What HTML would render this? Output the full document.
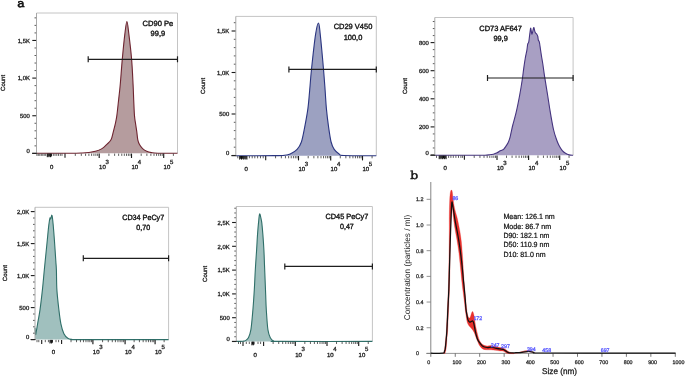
<!DOCTYPE html>
<html><head><meta charset="utf-8"><title>Figure</title>
<style>
html,body{margin:0;padding:0;background:#fff;}
body{width:685px;height:377px;overflow:hidden;}
svg{display:block;font-family:'Liberation Sans', Arial, Helvetica, sans-serif;text-rendering:geometricPrecision;filter:blur(0.3px);}
</style></head>
<body>
<svg width="685" height="377" viewBox="0 0 685 377">
<rect width="685" height="377" fill="#fff"/>
<line x1="36.5" y1="13" x2="177.5" y2="13" stroke="#c4c4c4" stroke-width="1"/>
<line x1="177.5" y1="13" x2="177.5" y2="153.3" stroke="#c4c4c4" stroke-width="1"/>
<path d="M36.5,153.3 C42.08,153.29 62.42,153.3 70,153.25 C77.58,153.2 78.9,153.12 82,153 C85.1,152.88 86.37,152.78 88.6,152.5 C90.83,152.22 93.17,151.95 95.4,151.3 C97.63,150.65 100.13,149.72 102,148.6 C103.87,147.48 105.1,146.07 106.6,144.6 C108.1,143.13 109.88,141.93 111,139.8 C112.12,137.67 112.58,134.45 113.3,131.8 C114.02,129.15 114.72,126.55 115.3,123.9 C115.88,121.25 116.25,119.88 116.8,115.9 C117.35,111.92 118.03,105.15 118.6,100 C119.17,94.85 119.58,91.82 120.2,85 C120.82,78.18 121.52,67.67 122.3,59.1 C123.08,50.53 124.13,39.87 124.9,33.6 C125.67,27.33 126.25,21.5 126.9,21.5 C127.55,21.5 128.02,27.33 128.8,33.6 C129.58,39.87 130.88,50.53 131.6,59.1 C132.32,67.67 132.75,78.18 133.1,85 C133.45,91.82 133.47,94.85 133.7,100 C133.93,105.15 134.18,111.92 134.5,115.9 C134.82,119.88 135.22,121.25 135.6,123.9 C135.98,126.55 136.43,129.15 136.8,131.8 C137.17,134.45 137.35,137.67 137.8,139.8 C138.25,141.93 138.7,143.13 139.5,144.6 C140.3,146.07 141.4,147.48 142.6,148.6 C143.8,149.72 145.22,150.63 146.7,151.3 C148.18,151.97 149.62,152.28 151.5,152.6 C153.38,152.92 153.67,153.08 158,153.2 C162.33,153.32 174.25,153.28 177.5,153.3 L177.5,153.3 L36.5,153.3 Z" fill="#b59c9e" stroke="none"/>
<path d="M36.5,153.3 C42.08,153.29 62.42,153.3 70,153.25 C77.58,153.2 78.9,153.12 82,153 C85.1,152.88 86.37,152.78 88.6,152.5 C90.83,152.22 93.17,151.95 95.4,151.3 C97.63,150.65 100.13,149.72 102,148.6 C103.87,147.48 105.1,146.07 106.6,144.6 C108.1,143.13 109.88,141.93 111,139.8 C112.12,137.67 112.58,134.45 113.3,131.8 C114.02,129.15 114.72,126.55 115.3,123.9 C115.88,121.25 116.25,119.88 116.8,115.9 C117.35,111.92 118.03,105.15 118.6,100 C119.17,94.85 119.58,91.82 120.2,85 C120.82,78.18 121.52,67.67 122.3,59.1 C123.08,50.53 124.13,39.87 124.9,33.6 C125.67,27.33 126.25,21.5 126.9,21.5 C127.55,21.5 128.02,27.33 128.8,33.6 C129.58,39.87 130.88,50.53 131.6,59.1 C132.32,67.67 132.75,78.18 133.1,85 C133.45,91.82 133.47,94.85 133.7,100 C133.93,105.15 134.18,111.92 134.5,115.9 C134.82,119.88 135.22,121.25 135.6,123.9 C135.98,126.55 136.43,129.15 136.8,131.8 C137.17,134.45 137.35,137.67 137.8,139.8 C138.25,141.93 138.7,143.13 139.5,144.6 C140.3,146.07 141.4,147.48 142.6,148.6 C143.8,149.72 145.22,150.63 146.7,151.3 C148.18,151.97 149.62,152.28 151.5,152.6 C153.38,152.92 153.67,153.08 158,153.2 C162.33,153.32 174.25,153.28 177.5,153.3" fill="none" stroke="#6e2430" stroke-width="1.1" stroke-linejoin="round"/>
<line x1="36.5" y1="13" x2="36.5" y2="153.8" stroke="#a8a8a8" stroke-width="1"/>
<line x1="32.3" y1="153.4" x2="36.1" y2="153.4" stroke="#1a1a1a" stroke-width="1.1"/>
<line x1="34.5" y1="145.87" x2="36.1" y2="145.87" stroke="#333" stroke-width="0.8"/>
<line x1="34.5" y1="138.34" x2="36.1" y2="138.34" stroke="#333" stroke-width="0.8"/>
<line x1="34.5" y1="130.81" x2="36.1" y2="130.81" stroke="#333" stroke-width="0.8"/>
<line x1="34.5" y1="123.28" x2="36.1" y2="123.28" stroke="#333" stroke-width="0.8"/>
<line x1="32.3" y1="115.75" x2="36.1" y2="115.75" stroke="#1a1a1a" stroke-width="1.1"/>
<line x1="34.5" y1="108.22" x2="36.1" y2="108.22" stroke="#333" stroke-width="0.8"/>
<line x1="34.5" y1="100.69" x2="36.1" y2="100.69" stroke="#333" stroke-width="0.8"/>
<line x1="34.5" y1="93.16" x2="36.1" y2="93.16" stroke="#333" stroke-width="0.8"/>
<line x1="34.5" y1="85.63" x2="36.1" y2="85.63" stroke="#333" stroke-width="0.8"/>
<line x1="32.3" y1="78.1" x2="36.1" y2="78.1" stroke="#1a1a1a" stroke-width="1.1"/>
<line x1="34.5" y1="70.57" x2="36.1" y2="70.57" stroke="#333" stroke-width="0.8"/>
<line x1="34.5" y1="63.04" x2="36.1" y2="63.04" stroke="#333" stroke-width="0.8"/>
<line x1="34.5" y1="55.51" x2="36.1" y2="55.51" stroke="#333" stroke-width="0.8"/>
<line x1="34.5" y1="47.98" x2="36.1" y2="47.98" stroke="#333" stroke-width="0.8"/>
<line x1="32.3" y1="40.45" x2="36.1" y2="40.45" stroke="#1a1a1a" stroke-width="1.1"/>
<line x1="34.5" y1="32.92" x2="36.1" y2="32.92" stroke="#333" stroke-width="0.8"/>
<line x1="34.5" y1="25.39" x2="36.1" y2="25.39" stroke="#333" stroke-width="0.8"/>
<line x1="34.5" y1="17.86" x2="36.1" y2="17.86" stroke="#333" stroke-width="0.8"/>
<text x="29.9" y="153" font-size="5.9" text-anchor="end" fill="#222" stroke="#222" stroke-width="0.3">0</text>
<text x="29.9" y="117.95" font-size="5.9" text-anchor="end" fill="#222" stroke="#222" stroke-width="0.3">500</text>
<text x="29.9" y="80.3" font-size="5.9" text-anchor="end" fill="#222" stroke="#222" stroke-width="0.3">1,0K</text>
<text x="29.9" y="42.65" font-size="5.9" text-anchor="end" fill="#222" stroke="#222" stroke-width="0.3">1,5K</text>
<text x="0" y="0" font-size="6" text-anchor="middle" fill="#222" transform="translate(5.3,82.9) rotate(-90)" stroke="#222" stroke-width="0.3">Count</text>
<line x1="32.1" y1="153.3" x2="37" y2="153.3" stroke="#222" stroke-width="1"/>
<line x1="47.3" y1="153.6" x2="47.3" y2="157.2" stroke="#000" stroke-width="0.95"/>
<line x1="48.12" y1="153.6" x2="48.12" y2="156.4" stroke="#000" stroke-width="0.95"/>
<line x1="48.94" y1="153.6" x2="48.94" y2="157.2" stroke="#000" stroke-width="0.95"/>
<line x1="49.76" y1="153.6" x2="49.76" y2="156.4" stroke="#000" stroke-width="0.95"/>
<line x1="50.58" y1="153.6" x2="50.58" y2="157.2" stroke="#000" stroke-width="0.95"/>
<line x1="51.4" y1="153.6" x2="51.4" y2="156.4" stroke="#000" stroke-width="0.95"/>
<line x1="36.9" y1="153.6" x2="36.9" y2="155.9" stroke="#2a2a2a" stroke-width="0.75"/>
<line x1="38.3" y1="153.6" x2="38.3" y2="155.9" stroke="#2a2a2a" stroke-width="0.75"/>
<line x1="39.8" y1="153.6" x2="39.8" y2="155.9" stroke="#2a2a2a" stroke-width="0.75"/>
<line x1="41.3" y1="153.6" x2="41.3" y2="155.9" stroke="#2a2a2a" stroke-width="0.75"/>
<line x1="42.8" y1="153.6" x2="42.8" y2="155.9" stroke="#2a2a2a" stroke-width="0.75"/>
<line x1="44.2" y1="153.6" x2="44.2" y2="155.9" stroke="#2a2a2a" stroke-width="0.75"/>
<line x1="45.7" y1="153.6" x2="45.7" y2="155.9" stroke="#2a2a2a" stroke-width="0.75"/>
<line x1="53.3" y1="153.6" x2="53.3" y2="155.9" stroke="#2a2a2a" stroke-width="0.75"/>
<line x1="55" y1="153.6" x2="55" y2="155.9" stroke="#2a2a2a" stroke-width="0.75"/>
<line x1="56.8" y1="153.6" x2="56.8" y2="155.9" stroke="#2a2a2a" stroke-width="0.75"/>
<line x1="58.5" y1="153.6" x2="58.5" y2="155.9" stroke="#2a2a2a" stroke-width="0.75"/>
<line x1="60.3" y1="153.6" x2="60.3" y2="155.9" stroke="#2a2a2a" stroke-width="0.75"/>
<line x1="62" y1="153.6" x2="62" y2="155.9" stroke="#2a2a2a" stroke-width="0.75"/>
<line x1="65" y1="153.6" x2="65" y2="157.8" stroke="#1a1a1a" stroke-width="1.1"/>
<line x1="75.3" y1="153.6" x2="75.3" y2="155.9" stroke="#2a2a2a" stroke-width="0.75"/>
<line x1="81.32" y1="153.6" x2="81.32" y2="155.9" stroke="#2a2a2a" stroke-width="0.75"/>
<line x1="85.59" y1="153.6" x2="85.59" y2="155.9" stroke="#2a2a2a" stroke-width="0.75"/>
<line x1="88.9" y1="153.6" x2="88.9" y2="155.9" stroke="#2a2a2a" stroke-width="0.75"/>
<line x1="91.61" y1="153.6" x2="91.61" y2="155.9" stroke="#2a2a2a" stroke-width="0.75"/>
<line x1="93.9" y1="153.6" x2="93.9" y2="155.9" stroke="#2a2a2a" stroke-width="0.75"/>
<line x1="95.89" y1="153.6" x2="95.89" y2="155.9" stroke="#2a2a2a" stroke-width="0.75"/>
<line x1="97.64" y1="153.6" x2="97.64" y2="155.9" stroke="#2a2a2a" stroke-width="0.75"/>
<line x1="108.92" y1="153.6" x2="108.92" y2="155.9" stroke="#2a2a2a" stroke-width="0.75"/>
<line x1="114.61" y1="153.6" x2="114.61" y2="155.9" stroke="#2a2a2a" stroke-width="0.75"/>
<line x1="118.65" y1="153.6" x2="118.65" y2="155.9" stroke="#2a2a2a" stroke-width="0.75"/>
<line x1="121.78" y1="153.6" x2="121.78" y2="155.9" stroke="#2a2a2a" stroke-width="0.75"/>
<line x1="124.33" y1="153.6" x2="124.33" y2="155.9" stroke="#2a2a2a" stroke-width="0.75"/>
<line x1="126.5" y1="153.6" x2="126.5" y2="155.9" stroke="#2a2a2a" stroke-width="0.75"/>
<line x1="128.37" y1="153.6" x2="128.37" y2="155.9" stroke="#2a2a2a" stroke-width="0.75"/>
<line x1="130.02" y1="153.6" x2="130.02" y2="155.9" stroke="#2a2a2a" stroke-width="0.75"/>
<line x1="141.19" y1="153.6" x2="141.19" y2="155.9" stroke="#2a2a2a" stroke-width="0.75"/>
<line x1="146.86" y1="153.6" x2="146.86" y2="155.9" stroke="#2a2a2a" stroke-width="0.75"/>
<line x1="150.89" y1="153.6" x2="150.89" y2="155.9" stroke="#2a2a2a" stroke-width="0.75"/>
<line x1="154.01" y1="153.6" x2="154.01" y2="155.9" stroke="#2a2a2a" stroke-width="0.75"/>
<line x1="156.56" y1="153.6" x2="156.56" y2="155.9" stroke="#2a2a2a" stroke-width="0.75"/>
<line x1="158.71" y1="153.6" x2="158.71" y2="155.9" stroke="#2a2a2a" stroke-width="0.75"/>
<line x1="160.58" y1="153.6" x2="160.58" y2="155.9" stroke="#2a2a2a" stroke-width="0.75"/>
<line x1="162.23" y1="153.6" x2="162.23" y2="155.9" stroke="#2a2a2a" stroke-width="0.75"/>
<line x1="173.39" y1="153.6" x2="173.39" y2="155.9" stroke="#2a2a2a" stroke-width="0.75"/>
<line x1="99.2" y1="153.6" x2="99.2" y2="158" stroke="#1a1a1a" stroke-width="1.15"/>
<line x1="131.5" y1="153.6" x2="131.5" y2="158" stroke="#1a1a1a" stroke-width="1.15"/>
<line x1="163.7" y1="153.6" x2="163.7" y2="158" stroke="#1a1a1a" stroke-width="1.15"/>
<text x="50.1" y="168.9" font-size="6" fill="#222" stroke="#222" stroke-width="0.3">0</text>
<text x="99.1" y="168.9" font-size="6" fill="#222" stroke="#222" stroke-width="0.3">10</text>
<text x="105.5" y="163.6" font-size="6" fill="#222" stroke="#222" stroke-width="0.3">3</text>
<text x="131.4" y="168.9" font-size="6" fill="#222" stroke="#222" stroke-width="0.3">10</text>
<text x="137.8" y="163.6" font-size="6" fill="#222" stroke="#222" stroke-width="0.3">4</text>
<text x="163.6" y="168.9" font-size="6" fill="#222" stroke="#222" stroke-width="0.3">10</text>
<text x="170" y="163.6" font-size="6" fill="#222" stroke="#222" stroke-width="0.3">5</text>
<line x1="88.2" y1="59.3" x2="177.5" y2="59.3" stroke="#1e1e1e" stroke-width="1.15"/>
<line x1="88.2" y1="56.3" x2="88.2" y2="62.3" stroke="#1e1e1e" stroke-width="1.2"/>
<line x1="177.5" y1="56.3" x2="177.5" y2="62.3" stroke="#1e1e1e" stroke-width="1.2"/>
<text x="157.9" y="26.2" font-size="7.5" text-anchor="middle" textLength="30.6" lengthAdjust="spacingAndGlyphs" fill="#151515" stroke="#151515" stroke-width="0.38">CD90 Pe</text>
<text x="157.9" y="36" font-size="7.5" text-anchor="middle" textLength="14.6" lengthAdjust="spacingAndGlyphs" fill="#151515" stroke="#151515" stroke-width="0.38">99,9</text>
<line x1="235.8" y1="16.4" x2="376.3" y2="16.4" stroke="#c4c4c4" stroke-width="1"/>
<line x1="376.3" y1="16.4" x2="376.3" y2="155.7" stroke="#c4c4c4" stroke-width="1"/>
<path d="M235.8,155.7 C242.33,155.69 266.97,155.7 275,155.65 C283.03,155.6 281.47,155.66 284,155.4 C286.53,155.14 288.02,155.1 290.2,154.1 C292.38,153.1 295.23,151.42 297.1,149.4 C298.97,147.38 300.13,145.72 301.4,142 C302.67,138.28 303.62,132.67 304.7,127.1 C305.78,121.53 307.07,114.78 307.9,108.6 C308.73,102.42 309.1,96.57 309.7,90 C310.3,83.43 310.53,78.38 311.5,69.2 C312.47,60.02 314.33,42.6 315.5,34.9 C316.67,27.2 317.7,23 318.5,23 C319.3,23 319.47,27.2 320.3,34.9 C321.13,42.6 322.7,60.02 323.5,69.2 C324.3,78.38 324.62,83.43 325.1,90 C325.58,96.57 325.82,102.42 326.4,108.6 C326.98,114.78 327.82,121.53 328.6,127.1 C329.38,132.67 330.17,138.28 331.1,142 C332.03,145.72 332.82,147.37 334.2,149.4 C335.58,151.43 337.77,153.18 339.4,154.2 C341.03,155.22 337.85,155.25 344,155.5 C350.15,155.75 370.92,155.67 376.3,155.7 L376.3,155.7 L235.8,155.7 Z" fill="#9ca1c1" stroke="none"/>
<path d="M235.8,155.7 C242.33,155.69 266.97,155.7 275,155.65 C283.03,155.6 281.47,155.66 284,155.4 C286.53,155.14 288.02,155.1 290.2,154.1 C292.38,153.1 295.23,151.42 297.1,149.4 C298.97,147.38 300.13,145.72 301.4,142 C302.67,138.28 303.62,132.67 304.7,127.1 C305.78,121.53 307.07,114.78 307.9,108.6 C308.73,102.42 309.1,96.57 309.7,90 C310.3,83.43 310.53,78.38 311.5,69.2 C312.47,60.02 314.33,42.6 315.5,34.9 C316.67,27.2 317.7,23 318.5,23 C319.3,23 319.47,27.2 320.3,34.9 C321.13,42.6 322.7,60.02 323.5,69.2 C324.3,78.38 324.62,83.43 325.1,90 C325.58,96.57 325.82,102.42 326.4,108.6 C326.98,114.78 327.82,121.53 328.6,127.1 C329.38,132.67 330.17,138.28 331.1,142 C332.03,145.72 332.82,147.37 334.2,149.4 C335.58,151.43 337.77,153.18 339.4,154.2 C341.03,155.22 337.85,155.25 344,155.5 C350.15,155.75 370.92,155.67 376.3,155.7" fill="none" stroke="#2a3580" stroke-width="1.1" stroke-linejoin="round"/>
<line x1="235.8" y1="16.4" x2="235.8" y2="156.2" stroke="#a8a8a8" stroke-width="1"/>
<line x1="231.6" y1="155.5" x2="235.4" y2="155.5" stroke="#1a1a1a" stroke-width="1.1"/>
<line x1="233.8" y1="147.2" x2="235.4" y2="147.2" stroke="#333" stroke-width="0.8"/>
<line x1="233.8" y1="138.9" x2="235.4" y2="138.9" stroke="#333" stroke-width="0.8"/>
<line x1="233.8" y1="130.6" x2="235.4" y2="130.6" stroke="#333" stroke-width="0.8"/>
<line x1="233.8" y1="122.3" x2="235.4" y2="122.3" stroke="#333" stroke-width="0.8"/>
<line x1="231.6" y1="114" x2="235.4" y2="114" stroke="#1a1a1a" stroke-width="1.1"/>
<line x1="233.8" y1="105.7" x2="235.4" y2="105.7" stroke="#333" stroke-width="0.8"/>
<line x1="233.8" y1="97.4" x2="235.4" y2="97.4" stroke="#333" stroke-width="0.8"/>
<line x1="233.8" y1="89.1" x2="235.4" y2="89.1" stroke="#333" stroke-width="0.8"/>
<line x1="233.8" y1="80.8" x2="235.4" y2="80.8" stroke="#333" stroke-width="0.8"/>
<line x1="231.6" y1="72.5" x2="235.4" y2="72.5" stroke="#1a1a1a" stroke-width="1.1"/>
<line x1="233.8" y1="64.2" x2="235.4" y2="64.2" stroke="#333" stroke-width="0.8"/>
<line x1="233.8" y1="55.9" x2="235.4" y2="55.9" stroke="#333" stroke-width="0.8"/>
<line x1="233.8" y1="47.6" x2="235.4" y2="47.6" stroke="#333" stroke-width="0.8"/>
<line x1="233.8" y1="39.3" x2="235.4" y2="39.3" stroke="#333" stroke-width="0.8"/>
<line x1="231.6" y1="31" x2="235.4" y2="31" stroke="#1a1a1a" stroke-width="1.1"/>
<line x1="233.8" y1="22.7" x2="235.4" y2="22.7" stroke="#333" stroke-width="0.8"/>
<text x="229.2" y="155.1" font-size="5.9" text-anchor="end" fill="#222" stroke="#222" stroke-width="0.3">0</text>
<text x="229.2" y="116.2" font-size="5.9" text-anchor="end" fill="#222" stroke="#222" stroke-width="0.3">500</text>
<text x="229.2" y="74.7" font-size="5.9" text-anchor="end" fill="#222" stroke="#222" stroke-width="0.3">1,0K</text>
<text x="229.2" y="33.2" font-size="5.9" text-anchor="end" fill="#222" stroke="#222" stroke-width="0.3">1,5K</text>
<text x="0" y="0" font-size="6" text-anchor="middle" fill="#222" transform="translate(205,85.9) rotate(-90)" stroke="#222" stroke-width="0.3">Count</text>
<line x1="231.4" y1="155.7" x2="236.3" y2="155.7" stroke="#222" stroke-width="1"/>
<line x1="239.7" y1="156" x2="239.7" y2="159.6" stroke="#000" stroke-width="0.95"/>
<line x1="240.6" y1="156" x2="240.6" y2="158.8" stroke="#000" stroke-width="0.95"/>
<line x1="241.5" y1="156" x2="241.5" y2="159.6" stroke="#000" stroke-width="0.95"/>
<line x1="242.4" y1="156" x2="242.4" y2="158.8" stroke="#000" stroke-width="0.95"/>
<line x1="243.3" y1="156" x2="243.3" y2="159.6" stroke="#000" stroke-width="0.95"/>
<line x1="244.2" y1="156" x2="244.2" y2="158.8" stroke="#000" stroke-width="0.95"/>
<line x1="245.1" y1="156" x2="245.1" y2="159.6" stroke="#000" stroke-width="0.95"/>
<line x1="246" y1="156" x2="246" y2="158.8" stroke="#000" stroke-width="0.95"/>
<line x1="246.9" y1="156" x2="246.9" y2="159.6" stroke="#000" stroke-width="0.95"/>
<line x1="237.8" y1="156" x2="237.8" y2="158.3" stroke="#2a2a2a" stroke-width="0.75"/>
<line x1="249.4" y1="156" x2="249.4" y2="158.3" stroke="#2a2a2a" stroke-width="0.75"/>
<line x1="252.2" y1="156" x2="252.2" y2="158.3" stroke="#2a2a2a" stroke-width="0.75"/>
<line x1="254.8" y1="156" x2="254.8" y2="158.3" stroke="#2a2a2a" stroke-width="0.75"/>
<line x1="257.6" y1="156" x2="257.6" y2="158.3" stroke="#2a2a2a" stroke-width="0.75"/>
<line x1="260.5" y1="156" x2="260.5" y2="158.3" stroke="#2a2a2a" stroke-width="0.75"/>
<line x1="263.2" y1="156" x2="263.2" y2="158.3" stroke="#2a2a2a" stroke-width="0.75"/>
<line x1="265.7" y1="156" x2="265.7" y2="160.2" stroke="#1a1a1a" stroke-width="1.1"/>
<line x1="275.57" y1="156" x2="275.57" y2="158.3" stroke="#2a2a2a" stroke-width="0.75"/>
<line x1="281.35" y1="156" x2="281.35" y2="158.3" stroke="#2a2a2a" stroke-width="0.75"/>
<line x1="285.45" y1="156" x2="285.45" y2="158.3" stroke="#2a2a2a" stroke-width="0.75"/>
<line x1="288.63" y1="156" x2="288.63" y2="158.3" stroke="#2a2a2a" stroke-width="0.75"/>
<line x1="291.22" y1="156" x2="291.22" y2="158.3" stroke="#2a2a2a" stroke-width="0.75"/>
<line x1="293.42" y1="156" x2="293.42" y2="158.3" stroke="#2a2a2a" stroke-width="0.75"/>
<line x1="295.32" y1="156" x2="295.32" y2="158.3" stroke="#2a2a2a" stroke-width="0.75"/>
<line x1="297" y1="156" x2="297" y2="158.3" stroke="#2a2a2a" stroke-width="0.75"/>
<line x1="308.19" y1="156" x2="308.19" y2="158.3" stroke="#2a2a2a" stroke-width="0.75"/>
<line x1="313.86" y1="156" x2="313.86" y2="158.3" stroke="#2a2a2a" stroke-width="0.75"/>
<line x1="317.89" y1="156" x2="317.89" y2="158.3" stroke="#2a2a2a" stroke-width="0.75"/>
<line x1="321.01" y1="156" x2="321.01" y2="158.3" stroke="#2a2a2a" stroke-width="0.75"/>
<line x1="323.56" y1="156" x2="323.56" y2="158.3" stroke="#2a2a2a" stroke-width="0.75"/>
<line x1="325.71" y1="156" x2="325.71" y2="158.3" stroke="#2a2a2a" stroke-width="0.75"/>
<line x1="327.58" y1="156" x2="327.58" y2="158.3" stroke="#2a2a2a" stroke-width="0.75"/>
<line x1="329.23" y1="156" x2="329.23" y2="158.3" stroke="#2a2a2a" stroke-width="0.75"/>
<line x1="340.27" y1="156" x2="340.27" y2="158.3" stroke="#2a2a2a" stroke-width="0.75"/>
<line x1="345.87" y1="156" x2="345.87" y2="158.3" stroke="#2a2a2a" stroke-width="0.75"/>
<line x1="349.85" y1="156" x2="349.85" y2="158.3" stroke="#2a2a2a" stroke-width="0.75"/>
<line x1="352.93" y1="156" x2="352.93" y2="158.3" stroke="#2a2a2a" stroke-width="0.75"/>
<line x1="355.45" y1="156" x2="355.45" y2="158.3" stroke="#2a2a2a" stroke-width="0.75"/>
<line x1="357.57" y1="156" x2="357.57" y2="158.3" stroke="#2a2a2a" stroke-width="0.75"/>
<line x1="359.42" y1="156" x2="359.42" y2="158.3" stroke="#2a2a2a" stroke-width="0.75"/>
<line x1="361.04" y1="156" x2="361.04" y2="158.3" stroke="#2a2a2a" stroke-width="0.75"/>
<line x1="372.07" y1="156" x2="372.07" y2="158.3" stroke="#2a2a2a" stroke-width="0.75"/>
<line x1="298.5" y1="156" x2="298.5" y2="160.4" stroke="#1a1a1a" stroke-width="1.15"/>
<line x1="330.7" y1="156" x2="330.7" y2="160.4" stroke="#1a1a1a" stroke-width="1.15"/>
<line x1="362.5" y1="156" x2="362.5" y2="160.4" stroke="#1a1a1a" stroke-width="1.15"/>
<text x="244.6" y="170.8" font-size="6" fill="#222" stroke="#222" stroke-width="0.3">0</text>
<text x="298.4" y="170.8" font-size="6" fill="#222" stroke="#222" stroke-width="0.3">10</text>
<text x="304.8" y="165.5" font-size="6" fill="#222" stroke="#222" stroke-width="0.3">3</text>
<text x="330.6" y="170.8" font-size="6" fill="#222" stroke="#222" stroke-width="0.3">10</text>
<text x="337" y="165.5" font-size="6" fill="#222" stroke="#222" stroke-width="0.3">4</text>
<text x="362.4" y="170.8" font-size="6" fill="#222" stroke="#222" stroke-width="0.3">10</text>
<text x="368.8" y="165.5" font-size="6" fill="#222" stroke="#222" stroke-width="0.3">5</text>
<line x1="288.9" y1="69.4" x2="376.3" y2="69.4" stroke="#1e1e1e" stroke-width="1.15"/>
<line x1="288.9" y1="66.4" x2="288.9" y2="72.4" stroke="#1e1e1e" stroke-width="1.2"/>
<line x1="376.3" y1="66.4" x2="376.3" y2="72.4" stroke="#1e1e1e" stroke-width="1.2"/>
<text x="353" y="29.4" font-size="7.5" text-anchor="middle" textLength="38.6" lengthAdjust="spacingAndGlyphs" fill="#151515" stroke="#151515" stroke-width="0.38">CD29 V450</text>
<text x="353" y="39.6" font-size="7.5" text-anchor="middle" textLength="18.6" lengthAdjust="spacingAndGlyphs" fill="#151515" stroke="#151515" stroke-width="0.38">100,0</text>
<line x1="434.8" y1="17.5" x2="573.1" y2="17.5" stroke="#c4c4c4" stroke-width="1"/>
<line x1="573.1" y1="17.5" x2="573.1" y2="155.3" stroke="#c4c4c4" stroke-width="1"/>
<path d="M434.8,155.3 C440.67,155.3 462.47,155.31 470,155.3 C477.53,155.29 477.5,155.27 480,155.25 C482.5,155.23 483.55,155.26 485,155.2 C486.45,155.14 487.3,155.07 488.7,154.9 C490.1,154.73 492,154.55 493.4,154.2 C494.8,153.85 496.03,153.32 497.1,152.8 C498.17,152.28 499.03,151.52 499.8,151.1 C500.57,150.68 501.07,150.6 501.7,150.3 C502.33,150 502.9,149.97 503.6,149.3 C504.3,148.63 505.13,147.42 505.9,146.3 C506.67,145.18 507.5,144.13 508.2,142.6 C508.9,141.07 509.55,139.1 510.1,137.1 C510.65,135.1 511.05,132.62 511.5,130.6 C511.95,128.58 512.02,128.07 512.8,125 C513.58,121.93 515.05,117.2 516.2,112.2 C517.35,107.2 518.7,100.37 519.7,95 C520.7,89.63 521.52,84.53 522.2,80 C522.88,75.47 523.28,71.47 523.8,67.8 C524.32,64.13 524.8,60.85 525.3,58 C525.8,55.15 526.4,53 526.8,50.7 C527.2,48.4 527.38,45.62 527.7,44.2 C528.02,42.78 528.4,43.52 528.7,42.2 C529,40.88 529.27,38.07 529.5,36.3 C529.73,34.53 529.92,32.95 530.1,31.6 C530.28,30.25 530.45,28.55 530.6,28.2 C530.75,27.85 530.8,28.53 531,29.5 C531.2,30.47 531.55,33.5 531.8,34 C532.05,34.5 532.23,33.42 532.5,32.5 C532.77,31.58 533.15,29.3 533.4,28.5 C533.65,27.7 533.75,27.18 534,27.7 C534.25,28.22 534.58,30.65 534.9,31.6 C535.22,32.55 535.58,32.97 535.9,33.4 C536.22,33.83 536.48,33.68 536.8,34.2 C537.12,34.72 537.55,35.53 537.8,36.5 C538.05,37.47 538.07,39.15 538.3,40 C538.53,40.85 538.97,40.93 539.2,41.6 C539.43,42.27 539.5,42.8 539.7,44 C539.9,45.2 540.17,47.22 540.4,48.8 C540.63,50.38 540.87,51.97 541.1,53.5 C541.33,55.03 541.5,56.17 541.8,58 C542.1,59.83 542.45,61.53 542.9,64.5 C543.35,67.47 543.72,70.72 544.5,75.8 C545.28,80.88 546.63,88.93 547.6,95 C548.57,101.07 549.32,106.45 550.3,112.2 C551.28,117.95 552.45,124.9 553.5,129.5 C554.55,134.1 555.7,137.18 556.6,139.8 C557.5,142.42 557.95,143.4 558.9,145.2 C559.85,147 561.2,149.25 562.3,150.6 C563.4,151.95 564.35,152.58 565.5,153.3 C566.65,154.02 567.93,154.58 569.2,154.9 C570.47,155.22 572.45,155.15 573.1,155.2 L573.1,155.3 L434.8,155.3 Z" fill="#a89fc3" stroke="none"/>
<path d="M434.8,155.3 C440.67,155.3 462.47,155.31 470,155.3 C477.53,155.29 477.5,155.27 480,155.25 C482.5,155.23 483.55,155.26 485,155.2 C486.45,155.14 487.3,155.07 488.7,154.9 C490.1,154.73 492,154.55 493.4,154.2 C494.8,153.85 496.03,153.32 497.1,152.8 C498.17,152.28 499.03,151.52 499.8,151.1 C500.57,150.68 501.07,150.6 501.7,150.3 C502.33,150 502.9,149.97 503.6,149.3 C504.3,148.63 505.13,147.42 505.9,146.3 C506.67,145.18 507.5,144.13 508.2,142.6 C508.9,141.07 509.55,139.1 510.1,137.1 C510.65,135.1 511.05,132.62 511.5,130.6 C511.95,128.58 512.02,128.07 512.8,125 C513.58,121.93 515.05,117.2 516.2,112.2 C517.35,107.2 518.7,100.37 519.7,95 C520.7,89.63 521.52,84.53 522.2,80 C522.88,75.47 523.28,71.47 523.8,67.8 C524.32,64.13 524.8,60.85 525.3,58 C525.8,55.15 526.4,53 526.8,50.7 C527.2,48.4 527.38,45.62 527.7,44.2 C528.02,42.78 528.4,43.52 528.7,42.2 C529,40.88 529.27,38.07 529.5,36.3 C529.73,34.53 529.92,32.95 530.1,31.6 C530.28,30.25 530.45,28.55 530.6,28.2 C530.75,27.85 530.8,28.53 531,29.5 C531.2,30.47 531.55,33.5 531.8,34 C532.05,34.5 532.23,33.42 532.5,32.5 C532.77,31.58 533.15,29.3 533.4,28.5 C533.65,27.7 533.75,27.18 534,27.7 C534.25,28.22 534.58,30.65 534.9,31.6 C535.22,32.55 535.58,32.97 535.9,33.4 C536.22,33.83 536.48,33.68 536.8,34.2 C537.12,34.72 537.55,35.53 537.8,36.5 C538.05,37.47 538.07,39.15 538.3,40 C538.53,40.85 538.97,40.93 539.2,41.6 C539.43,42.27 539.5,42.8 539.7,44 C539.9,45.2 540.17,47.22 540.4,48.8 C540.63,50.38 540.87,51.97 541.1,53.5 C541.33,55.03 541.5,56.17 541.8,58 C542.1,59.83 542.45,61.53 542.9,64.5 C543.35,67.47 543.72,70.72 544.5,75.8 C545.28,80.88 546.63,88.93 547.6,95 C548.57,101.07 549.32,106.45 550.3,112.2 C551.28,117.95 552.45,124.9 553.5,129.5 C554.55,134.1 555.7,137.18 556.6,139.8 C557.5,142.42 557.95,143.4 558.9,145.2 C559.85,147 561.2,149.25 562.3,150.6 C563.4,151.95 564.35,152.58 565.5,153.3 C566.65,154.02 567.93,154.58 569.2,154.9 C570.47,155.22 572.45,155.15 573.1,155.2" fill="none" stroke="#45347f" stroke-width="1.1" stroke-linejoin="round"/>
<line x1="434.8" y1="17.5" x2="434.8" y2="155.8" stroke="#a8a8a8" stroke-width="1"/>
<line x1="430.6" y1="155" x2="434.4" y2="155" stroke="#1a1a1a" stroke-width="1.1"/>
<line x1="432.8" y1="147.97" x2="434.4" y2="147.97" stroke="#333" stroke-width="0.8"/>
<line x1="432.8" y1="140.95" x2="434.4" y2="140.95" stroke="#333" stroke-width="0.8"/>
<line x1="432.8" y1="133.93" x2="434.4" y2="133.93" stroke="#333" stroke-width="0.8"/>
<line x1="430.6" y1="126.9" x2="434.4" y2="126.9" stroke="#1a1a1a" stroke-width="1.1"/>
<line x1="432.8" y1="119.88" x2="434.4" y2="119.88" stroke="#333" stroke-width="0.8"/>
<line x1="432.8" y1="112.85" x2="434.4" y2="112.85" stroke="#333" stroke-width="0.8"/>
<line x1="432.8" y1="105.82" x2="434.4" y2="105.82" stroke="#333" stroke-width="0.8"/>
<line x1="430.6" y1="98.8" x2="434.4" y2="98.8" stroke="#1a1a1a" stroke-width="1.1"/>
<line x1="432.8" y1="91.77" x2="434.4" y2="91.77" stroke="#333" stroke-width="0.8"/>
<line x1="432.8" y1="84.75" x2="434.4" y2="84.75" stroke="#333" stroke-width="0.8"/>
<line x1="432.8" y1="77.72" x2="434.4" y2="77.72" stroke="#333" stroke-width="0.8"/>
<line x1="430.6" y1="70.7" x2="434.4" y2="70.7" stroke="#1a1a1a" stroke-width="1.1"/>
<line x1="432.8" y1="63.67" x2="434.4" y2="63.67" stroke="#333" stroke-width="0.8"/>
<line x1="432.8" y1="56.65" x2="434.4" y2="56.65" stroke="#333" stroke-width="0.8"/>
<line x1="432.8" y1="49.62" x2="434.4" y2="49.62" stroke="#333" stroke-width="0.8"/>
<line x1="430.6" y1="42.6" x2="434.4" y2="42.6" stroke="#1a1a1a" stroke-width="1.1"/>
<line x1="432.8" y1="35.57" x2="434.4" y2="35.57" stroke="#333" stroke-width="0.8"/>
<line x1="432.8" y1="28.55" x2="434.4" y2="28.55" stroke="#333" stroke-width="0.8"/>
<line x1="432.8" y1="21.52" x2="434.4" y2="21.52" stroke="#333" stroke-width="0.8"/>
<text x="428.8" y="154.6" font-size="5.9" text-anchor="end" fill="#222" stroke="#222" stroke-width="0.3">0</text>
<text x="428.8" y="129.1" font-size="5.9" text-anchor="end" fill="#222" stroke="#222" stroke-width="0.3">200</text>
<text x="428.8" y="101" font-size="5.9" text-anchor="end" fill="#222" stroke="#222" stroke-width="0.3">400</text>
<text x="428.8" y="72.9" font-size="5.9" text-anchor="end" fill="#222" stroke="#222" stroke-width="0.3">600</text>
<text x="428.8" y="44.8" font-size="5.9" text-anchor="end" fill="#222" stroke="#222" stroke-width="0.3">800</text>
<text x="0" y="0" font-size="6" text-anchor="middle" fill="#222" transform="translate(406.9,86.1) rotate(-90)" stroke="#222" stroke-width="0.3">Count</text>
<line x1="430.4" y1="155.3" x2="435.3" y2="155.3" stroke="#222" stroke-width="1"/>
<line x1="439.2" y1="155.6" x2="439.2" y2="159.2" stroke="#000" stroke-width="0.95"/>
<line x1="440.06" y1="155.6" x2="440.06" y2="158.4" stroke="#000" stroke-width="0.95"/>
<line x1="440.93" y1="155.6" x2="440.93" y2="159.2" stroke="#000" stroke-width="0.95"/>
<line x1="441.79" y1="155.6" x2="441.79" y2="158.4" stroke="#000" stroke-width="0.95"/>
<line x1="442.65" y1="155.6" x2="442.65" y2="159.2" stroke="#000" stroke-width="0.95"/>
<line x1="443.51" y1="155.6" x2="443.51" y2="158.4" stroke="#000" stroke-width="0.95"/>
<line x1="444.38" y1="155.6" x2="444.38" y2="159.2" stroke="#000" stroke-width="0.95"/>
<line x1="445.24" y1="155.6" x2="445.24" y2="158.4" stroke="#000" stroke-width="0.95"/>
<line x1="446.1" y1="155.6" x2="446.1" y2="159.2" stroke="#000" stroke-width="0.95"/>
<line x1="436.5" y1="155.6" x2="436.5" y2="157.9" stroke="#2a2a2a" stroke-width="0.75"/>
<line x1="448.6" y1="155.6" x2="448.6" y2="157.9" stroke="#2a2a2a" stroke-width="0.75"/>
<line x1="450.9" y1="155.6" x2="450.9" y2="157.9" stroke="#2a2a2a" stroke-width="0.75"/>
<line x1="453.3" y1="155.6" x2="453.3" y2="157.9" stroke="#2a2a2a" stroke-width="0.75"/>
<line x1="455.9" y1="155.6" x2="455.9" y2="157.9" stroke="#2a2a2a" stroke-width="0.75"/>
<line x1="458.5" y1="155.6" x2="458.5" y2="157.9" stroke="#2a2a2a" stroke-width="0.75"/>
<line x1="460.9" y1="155.6" x2="460.9" y2="157.9" stroke="#2a2a2a" stroke-width="0.75"/>
<line x1="462.6" y1="155.6" x2="462.6" y2="157.9" stroke="#2a2a2a" stroke-width="0.75"/>
<line x1="464.4" y1="155.6" x2="464.4" y2="159.8" stroke="#1a1a1a" stroke-width="1.1"/>
<line x1="474.21" y1="155.6" x2="474.21" y2="157.9" stroke="#2a2a2a" stroke-width="0.75"/>
<line x1="479.95" y1="155.6" x2="479.95" y2="157.9" stroke="#2a2a2a" stroke-width="0.75"/>
<line x1="484.03" y1="155.6" x2="484.03" y2="157.9" stroke="#2a2a2a" stroke-width="0.75"/>
<line x1="487.19" y1="155.6" x2="487.19" y2="157.9" stroke="#2a2a2a" stroke-width="0.75"/>
<line x1="489.77" y1="155.6" x2="489.77" y2="157.9" stroke="#2a2a2a" stroke-width="0.75"/>
<line x1="491.95" y1="155.6" x2="491.95" y2="157.9" stroke="#2a2a2a" stroke-width="0.75"/>
<line x1="493.84" y1="155.6" x2="493.84" y2="157.9" stroke="#2a2a2a" stroke-width="0.75"/>
<line x1="495.51" y1="155.6" x2="495.51" y2="157.9" stroke="#2a2a2a" stroke-width="0.75"/>
<line x1="506.51" y1="155.6" x2="506.51" y2="157.9" stroke="#2a2a2a" stroke-width="0.75"/>
<line x1="512.08" y1="155.6" x2="512.08" y2="157.9" stroke="#2a2a2a" stroke-width="0.75"/>
<line x1="516.03" y1="155.6" x2="516.03" y2="157.9" stroke="#2a2a2a" stroke-width="0.75"/>
<line x1="519.09" y1="155.6" x2="519.09" y2="157.9" stroke="#2a2a2a" stroke-width="0.75"/>
<line x1="521.59" y1="155.6" x2="521.59" y2="157.9" stroke="#2a2a2a" stroke-width="0.75"/>
<line x1="523.71" y1="155.6" x2="523.71" y2="157.9" stroke="#2a2a2a" stroke-width="0.75"/>
<line x1="525.54" y1="155.6" x2="525.54" y2="157.9" stroke="#2a2a2a" stroke-width="0.75"/>
<line x1="527.15" y1="155.6" x2="527.15" y2="157.9" stroke="#2a2a2a" stroke-width="0.75"/>
<line x1="537.96" y1="155.6" x2="537.96" y2="157.9" stroke="#2a2a2a" stroke-width="0.75"/>
<line x1="543.44" y1="155.6" x2="543.44" y2="157.9" stroke="#2a2a2a" stroke-width="0.75"/>
<line x1="547.32" y1="155.6" x2="547.32" y2="157.9" stroke="#2a2a2a" stroke-width="0.75"/>
<line x1="550.34" y1="155.6" x2="550.34" y2="157.9" stroke="#2a2a2a" stroke-width="0.75"/>
<line x1="552.8" y1="155.6" x2="552.8" y2="157.9" stroke="#2a2a2a" stroke-width="0.75"/>
<line x1="554.88" y1="155.6" x2="554.88" y2="157.9" stroke="#2a2a2a" stroke-width="0.75"/>
<line x1="556.69" y1="155.6" x2="556.69" y2="157.9" stroke="#2a2a2a" stroke-width="0.75"/>
<line x1="558.28" y1="155.6" x2="558.28" y2="157.9" stroke="#2a2a2a" stroke-width="0.75"/>
<line x1="569.06" y1="155.6" x2="569.06" y2="157.9" stroke="#2a2a2a" stroke-width="0.75"/>
<line x1="497" y1="155.6" x2="497" y2="160" stroke="#1a1a1a" stroke-width="1.15"/>
<line x1="528.6" y1="155.6" x2="528.6" y2="160" stroke="#1a1a1a" stroke-width="1.15"/>
<line x1="559.7" y1="155.6" x2="559.7" y2="160" stroke="#1a1a1a" stroke-width="1.15"/>
<text x="443.6" y="170.3" font-size="6" fill="#222" stroke="#222" stroke-width="0.3">0</text>
<text x="496.9" y="170.3" font-size="6" fill="#222" stroke="#222" stroke-width="0.3">10</text>
<text x="503.3" y="165" font-size="6" fill="#222" stroke="#222" stroke-width="0.3">3</text>
<text x="528.5" y="170.3" font-size="6" fill="#222" stroke="#222" stroke-width="0.3">10</text>
<text x="534.9" y="165" font-size="6" fill="#222" stroke="#222" stroke-width="0.3">4</text>
<text x="559.6" y="170.3" font-size="6" fill="#222" stroke="#222" stroke-width="0.3">10</text>
<text x="566" y="165" font-size="6" fill="#222" stroke="#222" stroke-width="0.3">5</text>
<line x1="487.5" y1="78" x2="573.1" y2="78" stroke="#1e1e1e" stroke-width="1.15"/>
<line x1="487.5" y1="75" x2="487.5" y2="81" stroke="#1e1e1e" stroke-width="1.2"/>
<line x1="573.1" y1="75" x2="573.1" y2="81" stroke="#1e1e1e" stroke-width="1.2"/>
<text x="500.6" y="30.8" font-size="7.5" text-anchor="middle" textLength="42.6" lengthAdjust="spacingAndGlyphs" fill="#151515" stroke="#151515" stroke-width="0.38">CD73 AF647</text>
<text x="500.6" y="40.8" font-size="7.5" text-anchor="middle" textLength="14.4" lengthAdjust="spacingAndGlyphs" fill="#151515" stroke="#151515" stroke-width="0.38">99,9</text>
<line x1="35" y1="207.3" x2="168.6" y2="207.3" stroke="#c4c4c4" stroke-width="1"/>
<line x1="168.6" y1="207.3" x2="168.6" y2="339.6" stroke="#c4c4c4" stroke-width="1"/>
<path d="M35,327.8 C35.1,328.92 35.38,333.88 35.6,334.5 C35.82,335.12 35.97,333.28 36.3,331.5 C36.63,329.72 36.98,327.42 37.6,323.8 C38.22,320.18 39.2,315.45 40,309.8 C40.8,304.15 41.68,296.53 42.4,289.9 C43.12,283.27 43.78,275.32 44.3,270 C44.82,264.68 45.13,261.67 45.5,258 C45.87,254.33 46.2,251 46.5,248 C46.8,245 46.92,243.83 47.3,240 C47.68,236.17 48.35,228.67 48.8,225 C49.25,221.33 49.67,219.03 50,218 C50.33,216.97 50.52,219.27 50.8,218.8 C51.08,218.33 51.43,215.42 51.7,215.2 C51.97,214.98 52.15,215.87 52.4,217.5 C52.65,219.13 52.87,221.25 53.2,225 C53.53,228.75 53.97,234.03 54.4,240 C54.83,245.97 55.47,255.8 55.8,260.8 C56.13,265.8 56.22,265.15 56.4,270 C56.58,274.85 56.48,283.27 56.9,289.9 C57.32,296.53 58.23,304.15 58.9,309.8 C59.57,315.45 60.07,319.82 60.9,323.8 C61.73,327.78 62.75,331.3 63.9,333.7 C65.05,336.1 66.48,337.25 67.8,338.2 C69.12,339.15 69.77,339.17 71.8,339.4 C73.83,339.63 63.87,339.57 80,339.6 C96.13,339.63 153.83,339.6 168.6,339.6 L168.6,339.6 L35,339.6 Z" fill="#a0c0be" stroke="none"/>
<path d="M35,327.8 C35.1,328.92 35.38,333.88 35.6,334.5 C35.82,335.12 35.97,333.28 36.3,331.5 C36.63,329.72 36.98,327.42 37.6,323.8 C38.22,320.18 39.2,315.45 40,309.8 C40.8,304.15 41.68,296.53 42.4,289.9 C43.12,283.27 43.78,275.32 44.3,270 C44.82,264.68 45.13,261.67 45.5,258 C45.87,254.33 46.2,251 46.5,248 C46.8,245 46.92,243.83 47.3,240 C47.68,236.17 48.35,228.67 48.8,225 C49.25,221.33 49.67,219.03 50,218 C50.33,216.97 50.52,219.27 50.8,218.8 C51.08,218.33 51.43,215.42 51.7,215.2 C51.97,214.98 52.15,215.87 52.4,217.5 C52.65,219.13 52.87,221.25 53.2,225 C53.53,228.75 53.97,234.03 54.4,240 C54.83,245.97 55.47,255.8 55.8,260.8 C56.13,265.8 56.22,265.15 56.4,270 C56.58,274.85 56.48,283.27 56.9,289.9 C57.32,296.53 58.23,304.15 58.9,309.8 C59.57,315.45 60.07,319.82 60.9,323.8 C61.73,327.78 62.75,331.3 63.9,333.7 C65.05,336.1 66.48,337.25 67.8,338.2 C69.12,339.15 69.77,339.17 71.8,339.4 C73.83,339.63 63.87,339.57 80,339.6 C96.13,339.63 153.83,339.6 168.6,339.6" fill="none" stroke="#2f6f69" stroke-width="1.1" stroke-linejoin="round"/>
<line x1="35" y1="207.3" x2="35" y2="340.1" stroke="#a8a8a8" stroke-width="1"/>
<line x1="30.8" y1="339.6" x2="34.6" y2="339.6" stroke="#1a1a1a" stroke-width="1.1"/>
<line x1="33" y1="333.2" x2="34.6" y2="333.2" stroke="#333" stroke-width="0.8"/>
<line x1="33" y1="326.8" x2="34.6" y2="326.8" stroke="#333" stroke-width="0.8"/>
<line x1="33" y1="320.4" x2="34.6" y2="320.4" stroke="#333" stroke-width="0.8"/>
<line x1="33" y1="314" x2="34.6" y2="314" stroke="#333" stroke-width="0.8"/>
<line x1="30.8" y1="307.6" x2="34.6" y2="307.6" stroke="#1a1a1a" stroke-width="1.1"/>
<line x1="33" y1="301.2" x2="34.6" y2="301.2" stroke="#333" stroke-width="0.8"/>
<line x1="33" y1="294.8" x2="34.6" y2="294.8" stroke="#333" stroke-width="0.8"/>
<line x1="33" y1="288.4" x2="34.6" y2="288.4" stroke="#333" stroke-width="0.8"/>
<line x1="33" y1="282" x2="34.6" y2="282" stroke="#333" stroke-width="0.8"/>
<line x1="30.8" y1="275.6" x2="34.6" y2="275.6" stroke="#1a1a1a" stroke-width="1.1"/>
<line x1="33" y1="269.2" x2="34.6" y2="269.2" stroke="#333" stroke-width="0.8"/>
<line x1="33" y1="262.8" x2="34.6" y2="262.8" stroke="#333" stroke-width="0.8"/>
<line x1="33" y1="256.4" x2="34.6" y2="256.4" stroke="#333" stroke-width="0.8"/>
<line x1="33" y1="250" x2="34.6" y2="250" stroke="#333" stroke-width="0.8"/>
<line x1="30.8" y1="243.6" x2="34.6" y2="243.6" stroke="#1a1a1a" stroke-width="1.1"/>
<line x1="33" y1="237.2" x2="34.6" y2="237.2" stroke="#333" stroke-width="0.8"/>
<line x1="33" y1="230.8" x2="34.6" y2="230.8" stroke="#333" stroke-width="0.8"/>
<line x1="33" y1="224.4" x2="34.6" y2="224.4" stroke="#333" stroke-width="0.8"/>
<line x1="33" y1="218" x2="34.6" y2="218" stroke="#333" stroke-width="0.8"/>
<line x1="30.8" y1="211.6" x2="34.6" y2="211.6" stroke="#1a1a1a" stroke-width="1.1"/>
<text x="29.2" y="339.2" font-size="5.9" text-anchor="end" fill="#222" stroke="#222" stroke-width="0.3">0</text>
<text x="29.2" y="309.8" font-size="5.9" text-anchor="end" fill="#222" stroke="#222" stroke-width="0.3">500</text>
<text x="29.2" y="277.8" font-size="5.9" text-anchor="end" fill="#222" stroke="#222" stroke-width="0.3">1,0K</text>
<text x="29.2" y="245.8" font-size="5.9" text-anchor="end" fill="#222" stroke="#222" stroke-width="0.3">1,5K</text>
<text x="29.2" y="213.8" font-size="5.9" text-anchor="end" fill="#222" stroke="#222" stroke-width="0.3">2,0K</text>
<text x="0" y="0" font-size="6" text-anchor="middle" fill="#222" transform="translate(6.6,273.2) rotate(-90)" stroke="#222" stroke-width="0.3">Count</text>
<line x1="30.6" y1="339.6" x2="35.5" y2="339.6" stroke="#222" stroke-width="1"/>
<line x1="50" y1="339.9" x2="50" y2="343.5" stroke="#000" stroke-width="0.95"/>
<line x1="50.8" y1="339.9" x2="50.8" y2="342.7" stroke="#000" stroke-width="0.95"/>
<line x1="51.6" y1="339.9" x2="51.6" y2="343.5" stroke="#000" stroke-width="0.95"/>
<line x1="52.4" y1="339.9" x2="52.4" y2="342.7" stroke="#000" stroke-width="0.95"/>
<line x1="37" y1="339.9" x2="37" y2="342.2" stroke="#2a2a2a" stroke-width="0.75"/>
<line x1="38.8" y1="339.9" x2="38.8" y2="342.2" stroke="#2a2a2a" stroke-width="0.75"/>
<line x1="45.3" y1="339.9" x2="45.3" y2="342.2" stroke="#2a2a2a" stroke-width="0.75"/>
<line x1="48.4" y1="339.9" x2="48.4" y2="342.2" stroke="#2a2a2a" stroke-width="0.75"/>
<line x1="56" y1="339.9" x2="56" y2="342.2" stroke="#2a2a2a" stroke-width="0.75"/>
<line x1="58.6" y1="339.9" x2="58.6" y2="342.2" stroke="#2a2a2a" stroke-width="0.75"/>
<line x1="41.7" y1="339.9" x2="41.7" y2="344.1" stroke="#1a1a1a" stroke-width="1.1"/>
<line x1="61.6" y1="339.9" x2="61.6" y2="344.1" stroke="#1a1a1a" stroke-width="1.1"/>
<line x1="71.02" y1="339.9" x2="71.02" y2="342.2" stroke="#2a2a2a" stroke-width="0.75"/>
<line x1="76.53" y1="339.9" x2="76.53" y2="342.2" stroke="#2a2a2a" stroke-width="0.75"/>
<line x1="80.44" y1="339.9" x2="80.44" y2="342.2" stroke="#2a2a2a" stroke-width="0.75"/>
<line x1="83.48" y1="339.9" x2="83.48" y2="342.2" stroke="#2a2a2a" stroke-width="0.75"/>
<line x1="85.96" y1="339.9" x2="85.96" y2="342.2" stroke="#2a2a2a" stroke-width="0.75"/>
<line x1="88.05" y1="339.9" x2="88.05" y2="342.2" stroke="#2a2a2a" stroke-width="0.75"/>
<line x1="89.87" y1="339.9" x2="89.87" y2="342.2" stroke="#2a2a2a" stroke-width="0.75"/>
<line x1="91.47" y1="339.9" x2="91.47" y2="342.2" stroke="#2a2a2a" stroke-width="0.75"/>
<line x1="102.59" y1="339.9" x2="102.59" y2="342.2" stroke="#2a2a2a" stroke-width="0.75"/>
<line x1="108.26" y1="339.9" x2="108.26" y2="342.2" stroke="#2a2a2a" stroke-width="0.75"/>
<line x1="112.29" y1="339.9" x2="112.29" y2="342.2" stroke="#2a2a2a" stroke-width="0.75"/>
<line x1="115.41" y1="339.9" x2="115.41" y2="342.2" stroke="#2a2a2a" stroke-width="0.75"/>
<line x1="117.96" y1="339.9" x2="117.96" y2="342.2" stroke="#2a2a2a" stroke-width="0.75"/>
<line x1="120.11" y1="339.9" x2="120.11" y2="342.2" stroke="#2a2a2a" stroke-width="0.75"/>
<line x1="121.98" y1="339.9" x2="121.98" y2="342.2" stroke="#2a2a2a" stroke-width="0.75"/>
<line x1="123.63" y1="339.9" x2="123.63" y2="342.2" stroke="#2a2a2a" stroke-width="0.75"/>
<line x1="134.13" y1="339.9" x2="134.13" y2="342.2" stroke="#2a2a2a" stroke-width="0.75"/>
<line x1="139.41" y1="339.9" x2="139.41" y2="342.2" stroke="#2a2a2a" stroke-width="0.75"/>
<line x1="143.16" y1="339.9" x2="143.16" y2="342.2" stroke="#2a2a2a" stroke-width="0.75"/>
<line x1="146.07" y1="339.9" x2="146.07" y2="342.2" stroke="#2a2a2a" stroke-width="0.75"/>
<line x1="148.44" y1="339.9" x2="148.44" y2="342.2" stroke="#2a2a2a" stroke-width="0.75"/>
<line x1="150.45" y1="339.9" x2="150.45" y2="342.2" stroke="#2a2a2a" stroke-width="0.75"/>
<line x1="152.19" y1="339.9" x2="152.19" y2="342.2" stroke="#2a2a2a" stroke-width="0.75"/>
<line x1="153.73" y1="339.9" x2="153.73" y2="342.2" stroke="#2a2a2a" stroke-width="0.75"/>
<line x1="164.13" y1="339.9" x2="164.13" y2="342.2" stroke="#2a2a2a" stroke-width="0.75"/>
<line x1="92.9" y1="339.9" x2="92.9" y2="344.3" stroke="#1a1a1a" stroke-width="1.15"/>
<line x1="125.1" y1="339.9" x2="125.1" y2="344.3" stroke="#1a1a1a" stroke-width="1.15"/>
<line x1="155.1" y1="339.9" x2="155.1" y2="344.3" stroke="#1a1a1a" stroke-width="1.15"/>
<text x="51.8" y="354.3" font-size="6" fill="#222" stroke="#222" stroke-width="0.3">0</text>
<text x="92.8" y="354.3" font-size="6" fill="#222" stroke="#222" stroke-width="0.3">10</text>
<text x="99.2" y="349" font-size="6" fill="#222" stroke="#222" stroke-width="0.3">3</text>
<text x="125" y="354.3" font-size="6" fill="#222" stroke="#222" stroke-width="0.3">10</text>
<text x="131.4" y="349" font-size="6" fill="#222" stroke="#222" stroke-width="0.3">4</text>
<text x="155" y="354.3" font-size="6" fill="#222" stroke="#222" stroke-width="0.3">10</text>
<text x="161.4" y="349" font-size="6" fill="#222" stroke="#222" stroke-width="0.3">5</text>
<line x1="83.3" y1="258.3" x2="168.6" y2="258.3" stroke="#1e1e1e" stroke-width="1.15"/>
<line x1="83.3" y1="255.3" x2="83.3" y2="261.3" stroke="#1e1e1e" stroke-width="1.2"/>
<line x1="168.6" y1="255.3" x2="168.6" y2="261.3" stroke="#1e1e1e" stroke-width="1.2"/>
<text x="143.2" y="219.5" font-size="7.5" text-anchor="middle" textLength="42" lengthAdjust="spacingAndGlyphs" fill="#151515" stroke="#151515" stroke-width="0.38">CD34 PeCy7</text>
<text x="143.2" y="229.6" font-size="7.5" text-anchor="middle" textLength="13.8" lengthAdjust="spacingAndGlyphs" fill="#151515" stroke="#151515" stroke-width="0.38">0,70</text>
<line x1="236.3" y1="206.5" x2="372.4" y2="206.5" stroke="#c4c4c4" stroke-width="1"/>
<line x1="372.4" y1="206.5" x2="372.4" y2="341.4" stroke="#c4c4c4" stroke-width="1"/>
<path d="M236.3,341.4 C236.92,341.39 238.88,341.38 240,341.35 C241.12,341.32 242.08,341.32 243,341.2 C243.92,341.07 244.6,341.18 245.5,340.6 C246.4,340.02 247.5,339.52 248.4,337.7 C249.3,335.88 250.15,334.35 250.9,329.7 C251.65,325.05 252.33,316.43 252.9,309.8 C253.47,303.17 253.9,296.53 254.3,289.9 C254.7,283.27 254.92,276.65 255.3,270 C255.68,263.35 256.23,255.85 256.6,250 C256.97,244.15 257.18,239.42 257.5,234.9 C257.82,230.38 258.15,226.38 258.5,222.9 C258.85,219.42 259.18,214.73 259.6,214 C260.02,213.27 260.63,217.02 261,218.5 C261.37,219.98 261.48,220.17 261.8,222.9 C262.12,225.63 262.55,230.38 262.9,234.9 C263.25,239.42 263.63,244.98 263.9,250 C264.17,255.02 264.3,260 264.5,265 C264.7,270 264.9,275 265.1,280 C265.3,285 265.5,290.03 265.7,295 C265.9,299.97 265.93,304.02 266.3,309.8 C266.67,315.58 267.23,325.05 267.9,329.7 C268.57,334.35 269.32,335.82 270.3,337.7 C271.28,339.58 272.18,340.38 273.8,341 C275.42,341.62 263.57,341.33 280,341.4 C296.43,341.47 357,341.4 372.4,341.4 L372.4,341.4 L236.3,341.4 Z" fill="#a0c0be" stroke="none"/>
<path d="M236.3,341.4 C236.92,341.39 238.88,341.38 240,341.35 C241.12,341.32 242.08,341.32 243,341.2 C243.92,341.07 244.6,341.18 245.5,340.6 C246.4,340.02 247.5,339.52 248.4,337.7 C249.3,335.88 250.15,334.35 250.9,329.7 C251.65,325.05 252.33,316.43 252.9,309.8 C253.47,303.17 253.9,296.53 254.3,289.9 C254.7,283.27 254.92,276.65 255.3,270 C255.68,263.35 256.23,255.85 256.6,250 C256.97,244.15 257.18,239.42 257.5,234.9 C257.82,230.38 258.15,226.38 258.5,222.9 C258.85,219.42 259.18,214.73 259.6,214 C260.02,213.27 260.63,217.02 261,218.5 C261.37,219.98 261.48,220.17 261.8,222.9 C262.12,225.63 262.55,230.38 262.9,234.9 C263.25,239.42 263.63,244.98 263.9,250 C264.17,255.02 264.3,260 264.5,265 C264.7,270 264.9,275 265.1,280 C265.3,285 265.5,290.03 265.7,295 C265.9,299.97 265.93,304.02 266.3,309.8 C266.67,315.58 267.23,325.05 267.9,329.7 C268.57,334.35 269.32,335.82 270.3,337.7 C271.28,339.58 272.18,340.38 273.8,341 C275.42,341.62 263.57,341.33 280,341.4 C296.43,341.47 357,341.4 372.4,341.4" fill="none" stroke="#2f6f69" stroke-width="1.1" stroke-linejoin="round"/>
<line x1="236.3" y1="206.5" x2="236.3" y2="341.9" stroke="#a8a8a8" stroke-width="1"/>
<line x1="232.1" y1="341.5" x2="235.9" y2="341.5" stroke="#1a1a1a" stroke-width="1.1"/>
<line x1="234.3" y1="336.74" x2="235.9" y2="336.74" stroke="#333" stroke-width="0.8"/>
<line x1="234.3" y1="331.98" x2="235.9" y2="331.98" stroke="#333" stroke-width="0.8"/>
<line x1="234.3" y1="327.22" x2="235.9" y2="327.22" stroke="#333" stroke-width="0.8"/>
<line x1="234.3" y1="322.46" x2="235.9" y2="322.46" stroke="#333" stroke-width="0.8"/>
<line x1="232.1" y1="317.7" x2="235.9" y2="317.7" stroke="#1a1a1a" stroke-width="1.1"/>
<line x1="234.3" y1="312.94" x2="235.9" y2="312.94" stroke="#333" stroke-width="0.8"/>
<line x1="234.3" y1="308.18" x2="235.9" y2="308.18" stroke="#333" stroke-width="0.8"/>
<line x1="234.3" y1="303.42" x2="235.9" y2="303.42" stroke="#333" stroke-width="0.8"/>
<line x1="234.3" y1="298.66" x2="235.9" y2="298.66" stroke="#333" stroke-width="0.8"/>
<line x1="232.1" y1="293.9" x2="235.9" y2="293.9" stroke="#1a1a1a" stroke-width="1.1"/>
<line x1="234.3" y1="289.14" x2="235.9" y2="289.14" stroke="#333" stroke-width="0.8"/>
<line x1="234.3" y1="284.38" x2="235.9" y2="284.38" stroke="#333" stroke-width="0.8"/>
<line x1="234.3" y1="279.62" x2="235.9" y2="279.62" stroke="#333" stroke-width="0.8"/>
<line x1="234.3" y1="274.86" x2="235.9" y2="274.86" stroke="#333" stroke-width="0.8"/>
<line x1="232.1" y1="270.1" x2="235.9" y2="270.1" stroke="#1a1a1a" stroke-width="1.1"/>
<line x1="234.3" y1="265.34" x2="235.9" y2="265.34" stroke="#333" stroke-width="0.8"/>
<line x1="234.3" y1="260.58" x2="235.9" y2="260.58" stroke="#333" stroke-width="0.8"/>
<line x1="234.3" y1="255.82" x2="235.9" y2="255.82" stroke="#333" stroke-width="0.8"/>
<line x1="234.3" y1="251.06" x2="235.9" y2="251.06" stroke="#333" stroke-width="0.8"/>
<line x1="232.1" y1="246.3" x2="235.9" y2="246.3" stroke="#1a1a1a" stroke-width="1.1"/>
<line x1="234.3" y1="241.54" x2="235.9" y2="241.54" stroke="#333" stroke-width="0.8"/>
<line x1="234.3" y1="236.78" x2="235.9" y2="236.78" stroke="#333" stroke-width="0.8"/>
<line x1="234.3" y1="232.02" x2="235.9" y2="232.02" stroke="#333" stroke-width="0.8"/>
<line x1="234.3" y1="227.26" x2="235.9" y2="227.26" stroke="#333" stroke-width="0.8"/>
<line x1="232.1" y1="222.5" x2="235.9" y2="222.5" stroke="#1a1a1a" stroke-width="1.1"/>
<line x1="234.3" y1="217.74" x2="235.9" y2="217.74" stroke="#333" stroke-width="0.8"/>
<line x1="234.3" y1="212.98" x2="235.9" y2="212.98" stroke="#333" stroke-width="0.8"/>
<line x1="234.3" y1="208.22" x2="235.9" y2="208.22" stroke="#333" stroke-width="0.8"/>
<text x="229.7" y="341.1" font-size="5.9" text-anchor="end" fill="#222" stroke="#222" stroke-width="0.3">0</text>
<text x="229.7" y="319.9" font-size="5.9" text-anchor="end" fill="#222" stroke="#222" stroke-width="0.3">500</text>
<text x="229.7" y="296.1" font-size="5.9" text-anchor="end" fill="#222" stroke="#222" stroke-width="0.3">1,0K</text>
<text x="229.7" y="272.3" font-size="5.9" text-anchor="end" fill="#222" stroke="#222" stroke-width="0.3">1,5K</text>
<text x="229.7" y="248.5" font-size="5.9" text-anchor="end" fill="#222" stroke="#222" stroke-width="0.3">2,0K</text>
<text x="229.7" y="224.7" font-size="5.9" text-anchor="end" fill="#222" stroke="#222" stroke-width="0.3">2,5K</text>
<text x="0" y="0" font-size="6" text-anchor="middle" fill="#222" transform="translate(206.6,273.9) rotate(-90)" stroke="#222" stroke-width="0.3">Count</text>
<line x1="231.9" y1="341.4" x2="236.8" y2="341.4" stroke="#222" stroke-width="1"/>
<line x1="251.9" y1="341.7" x2="251.9" y2="345.3" stroke="#000" stroke-width="0.95"/>
<line x1="252.6" y1="341.7" x2="252.6" y2="344.5" stroke="#000" stroke-width="0.95"/>
<line x1="253.3" y1="341.7" x2="253.3" y2="345.3" stroke="#000" stroke-width="0.95"/>
<line x1="254" y1="341.7" x2="254" y2="344.5" stroke="#000" stroke-width="0.95"/>
<line x1="238.5" y1="341.7" x2="238.5" y2="344" stroke="#2a2a2a" stroke-width="0.75"/>
<line x1="240.5" y1="341.7" x2="240.5" y2="344" stroke="#2a2a2a" stroke-width="0.75"/>
<line x1="246.3" y1="341.7" x2="246.3" y2="344" stroke="#2a2a2a" stroke-width="0.75"/>
<line x1="249.3" y1="341.7" x2="249.3" y2="344" stroke="#2a2a2a" stroke-width="0.75"/>
<line x1="258" y1="341.7" x2="258" y2="344" stroke="#2a2a2a" stroke-width="0.75"/>
<line x1="260.6" y1="341.7" x2="260.6" y2="344" stroke="#2a2a2a" stroke-width="0.75"/>
<line x1="243" y1="341.7" x2="243" y2="345.9" stroke="#1a1a1a" stroke-width="1.1"/>
<line x1="263.6" y1="341.7" x2="263.6" y2="345.9" stroke="#1a1a1a" stroke-width="1.1"/>
<line x1="273.14" y1="341.7" x2="273.14" y2="344" stroke="#2a2a2a" stroke-width="0.75"/>
<line x1="278.72" y1="341.7" x2="278.72" y2="344" stroke="#2a2a2a" stroke-width="0.75"/>
<line x1="282.69" y1="341.7" x2="282.69" y2="344" stroke="#2a2a2a" stroke-width="0.75"/>
<line x1="285.76" y1="341.7" x2="285.76" y2="344" stroke="#2a2a2a" stroke-width="0.75"/>
<line x1="288.27" y1="341.7" x2="288.27" y2="344" stroke="#2a2a2a" stroke-width="0.75"/>
<line x1="290.39" y1="341.7" x2="290.39" y2="344" stroke="#2a2a2a" stroke-width="0.75"/>
<line x1="292.23" y1="341.7" x2="292.23" y2="344" stroke="#2a2a2a" stroke-width="0.75"/>
<line x1="293.85" y1="341.7" x2="293.85" y2="344" stroke="#2a2a2a" stroke-width="0.75"/>
<line x1="304.84" y1="341.7" x2="304.84" y2="344" stroke="#2a2a2a" stroke-width="0.75"/>
<line x1="310.42" y1="341.7" x2="310.42" y2="344" stroke="#2a2a2a" stroke-width="0.75"/>
<line x1="314.39" y1="341.7" x2="314.39" y2="344" stroke="#2a2a2a" stroke-width="0.75"/>
<line x1="317.46" y1="341.7" x2="317.46" y2="344" stroke="#2a2a2a" stroke-width="0.75"/>
<line x1="319.97" y1="341.7" x2="319.97" y2="344" stroke="#2a2a2a" stroke-width="0.75"/>
<line x1="322.09" y1="341.7" x2="322.09" y2="344" stroke="#2a2a2a" stroke-width="0.75"/>
<line x1="323.93" y1="341.7" x2="323.93" y2="344" stroke="#2a2a2a" stroke-width="0.75"/>
<line x1="325.55" y1="341.7" x2="325.55" y2="344" stroke="#2a2a2a" stroke-width="0.75"/>
<line x1="336.54" y1="341.7" x2="336.54" y2="344" stroke="#2a2a2a" stroke-width="0.75"/>
<line x1="342.12" y1="341.7" x2="342.12" y2="344" stroke="#2a2a2a" stroke-width="0.75"/>
<line x1="346.09" y1="341.7" x2="346.09" y2="344" stroke="#2a2a2a" stroke-width="0.75"/>
<line x1="349.16" y1="341.7" x2="349.16" y2="344" stroke="#2a2a2a" stroke-width="0.75"/>
<line x1="351.67" y1="341.7" x2="351.67" y2="344" stroke="#2a2a2a" stroke-width="0.75"/>
<line x1="353.79" y1="341.7" x2="353.79" y2="344" stroke="#2a2a2a" stroke-width="0.75"/>
<line x1="355.63" y1="341.7" x2="355.63" y2="344" stroke="#2a2a2a" stroke-width="0.75"/>
<line x1="357.25" y1="341.7" x2="357.25" y2="344" stroke="#2a2a2a" stroke-width="0.75"/>
<line x1="368.24" y1="341.7" x2="368.24" y2="344" stroke="#2a2a2a" stroke-width="0.75"/>
<line x1="295.3" y1="341.7" x2="295.3" y2="346.1" stroke="#1a1a1a" stroke-width="1.15"/>
<line x1="327" y1="341.7" x2="327" y2="346.1" stroke="#1a1a1a" stroke-width="1.15"/>
<line x1="358.7" y1="341.7" x2="358.7" y2="346.1" stroke="#1a1a1a" stroke-width="1.15"/>
<text x="253.6" y="356.5" font-size="6" fill="#222" stroke="#222" stroke-width="0.3">0</text>
<text x="295.2" y="356.5" font-size="6" fill="#222" stroke="#222" stroke-width="0.3">10</text>
<text x="301.6" y="351.2" font-size="6" fill="#222" stroke="#222" stroke-width="0.3">3</text>
<text x="326.9" y="356.5" font-size="6" fill="#222" stroke="#222" stroke-width="0.3">10</text>
<text x="333.3" y="351.2" font-size="6" fill="#222" stroke="#222" stroke-width="0.3">4</text>
<text x="358.6" y="356.5" font-size="6" fill="#222" stroke="#222" stroke-width="0.3">10</text>
<text x="365" y="351.2" font-size="6" fill="#222" stroke="#222" stroke-width="0.3">5</text>
<line x1="284.8" y1="266.4" x2="372.4" y2="266.4" stroke="#1e1e1e" stroke-width="1.15"/>
<line x1="284.8" y1="263.4" x2="284.8" y2="269.4" stroke="#1e1e1e" stroke-width="1.2"/>
<line x1="372.4" y1="263.4" x2="372.4" y2="269.4" stroke="#1e1e1e" stroke-width="1.2"/>
<text x="346.9" y="219.3" font-size="7.5" text-anchor="middle" textLength="42.8" lengthAdjust="spacingAndGlyphs" fill="#151515" stroke="#151515" stroke-width="0.38">CD45 PeCy7</text>
<text x="346.9" y="229.3" font-size="7.5" text-anchor="middle" textLength="13.8" lengthAdjust="spacingAndGlyphs" fill="#151515" stroke="#151515" stroke-width="0.38">0,47</text>
<text x="0" y="0" transform="translate(17.3,6.6) scale(1.13,1)" font-size="11" fill="#111" stroke="#111" stroke-width="0.6" style="font-family:'DejaVu Serif',serif">a</text>
<text x="0" y="0" transform="translate(410.2,179.4) scale(1.15,1)" font-size="10.8" fill="#111" stroke="#111" stroke-width="0.42" style="font-family:'DejaVu Serif',serif">b</text>
<line x1="430.8" y1="182" x2="430.8" y2="353.4" stroke="#777" stroke-width="0.9"/>
<line x1="426.3" y1="353.4" x2="675.6" y2="353.4" stroke="#888" stroke-width="0.9"/>
<line x1="426.6" y1="353.4" x2="430.8" y2="353.4" stroke="#777" stroke-width="0.8"/>
<text x="416.1" y="355.3" font-size="5.4" fill="#333" stroke="#333" stroke-width="0.3">0</text>
<line x1="426.6" y1="327.72" x2="430.8" y2="327.72" stroke="#777" stroke-width="0.8"/>
<text x="423.4" y="329.62" font-size="5.4" text-anchor="end" fill="#333" stroke="#333" stroke-width="0.3">0.2</text>
<line x1="426.6" y1="302.04" x2="430.8" y2="302.04" stroke="#777" stroke-width="0.8"/>
<text x="423.4" y="303.94" font-size="5.4" text-anchor="end" fill="#333" stroke="#333" stroke-width="0.3">0.4</text>
<line x1="426.6" y1="276.36" x2="430.8" y2="276.36" stroke="#777" stroke-width="0.8"/>
<text x="423.4" y="278.26" font-size="5.4" text-anchor="end" fill="#333" stroke="#333" stroke-width="0.3">0.6</text>
<line x1="426.6" y1="250.68" x2="430.8" y2="250.68" stroke="#777" stroke-width="0.8"/>
<text x="423.4" y="252.58" font-size="5.4" text-anchor="end" fill="#333" stroke="#333" stroke-width="0.3">0.8</text>
<line x1="426.6" y1="225" x2="430.8" y2="225" stroke="#777" stroke-width="0.8"/>
<text x="423.4" y="226.9" font-size="5.4" text-anchor="end" fill="#333" stroke="#333" stroke-width="0.3">1.0</text>
<line x1="426.6" y1="199.32" x2="430.8" y2="199.32" stroke="#777" stroke-width="0.8"/>
<text x="423.4" y="201.22" font-size="5.4" text-anchor="end" fill="#333" stroke="#333" stroke-width="0.3">1.2</text>
<line x1="430.8" y1="353.4" x2="430.8" y2="356.8" stroke="#555" stroke-width="0.8"/>
<text x="427.2" y="363.8" font-size="5.3" fill="#333" stroke="#333" stroke-width="0.3">0</text>
<line x1="455.25" y1="353.4" x2="455.25" y2="356.8" stroke="#555" stroke-width="0.8"/>
<text x="452.55" y="363.8" font-size="5.3" fill="#333" stroke="#333" stroke-width="0.3">100</text>
<line x1="479.7" y1="353.4" x2="479.7" y2="356.8" stroke="#555" stroke-width="0.8"/>
<text x="477" y="363.8" font-size="5.3" fill="#333" stroke="#333" stroke-width="0.3">200</text>
<line x1="504.15" y1="353.4" x2="504.15" y2="356.8" stroke="#555" stroke-width="0.8"/>
<text x="501.45" y="363.8" font-size="5.3" fill="#333" stroke="#333" stroke-width="0.3">300</text>
<line x1="528.6" y1="353.4" x2="528.6" y2="356.8" stroke="#555" stroke-width="0.8"/>
<text x="525.9" y="363.8" font-size="5.3" fill="#333" stroke="#333" stroke-width="0.3">400</text>
<line x1="553.05" y1="353.4" x2="553.05" y2="356.8" stroke="#555" stroke-width="0.8"/>
<text x="550.35" y="363.8" font-size="5.3" fill="#333" stroke="#333" stroke-width="0.3">500</text>
<line x1="577.5" y1="353.4" x2="577.5" y2="356.8" stroke="#555" stroke-width="0.8"/>
<text x="574.8" y="363.8" font-size="5.3" fill="#333" stroke="#333" stroke-width="0.3">600</text>
<line x1="601.95" y1="353.4" x2="601.95" y2="356.8" stroke="#555" stroke-width="0.8"/>
<text x="599.25" y="363.8" font-size="5.3" fill="#333" stroke="#333" stroke-width="0.3">700</text>
<line x1="626.4" y1="353.4" x2="626.4" y2="356.8" stroke="#555" stroke-width="0.8"/>
<text x="623.7" y="363.8" font-size="5.3" fill="#333" stroke="#333" stroke-width="0.3">800</text>
<line x1="650.85" y1="353.4" x2="650.85" y2="356.8" stroke="#555" stroke-width="0.8"/>
<text x="648.15" y="363.8" font-size="5.3" fill="#333" stroke="#333" stroke-width="0.3">900</text>
<line x1="675.3" y1="353.4" x2="675.3" y2="356.8" stroke="#555" stroke-width="0.8"/>
<text x="672.6" y="363.8" font-size="5.3" fill="#333" stroke="#333" stroke-width="0.3">1000</text>
<text x="559.6" y="373.9" font-size="8.35" text-anchor="middle" textLength="35" lengthAdjust="spacingAndGlyphs" fill="#222" stroke="#222" stroke-width="0.3">Size (nm)</text>
<text x="0" y="0" font-size="8.3" text-anchor="middle" fill="#222" textLength="105.5" lengthAdjust="spacingAndGlyphs" transform="translate(410.0,267.5) rotate(-90)">Concentration (particles / ml)</text>
<path d="M443.3,353.3 C443.5,352.75 444.12,352.22 444.5,350 C444.88,347.78 445.28,343.17 445.6,340 C445.92,336.83 446.12,335.83 446.4,331 C446.68,326.17 446.98,317.83 447.3,311 C447.62,304.17 448.05,296.83 448.3,290 C448.55,283.17 448.67,276.67 448.8,270 C448.93,263.33 449.02,256.67 449.1,250 C449.18,243.33 449.27,235.67 449.3,230 C449.33,224.33 449.23,221 449.3,216 C449.37,211 449.53,203.83 449.7,200 C449.87,196.17 450.03,194.67 450.3,193 C450.57,191.33 450.97,190.17 451.3,190 C451.63,189.83 451.98,190.33 452.3,192 C452.62,193.67 452.83,197.33 453.2,200 C453.57,202.67 453.92,205.33 454.5,208 C455.08,210.67 456.1,213.67 456.7,216 C457.3,218.33 457.55,219.33 458.1,222 C458.65,224.67 459.45,228.67 460,232 C460.55,235.33 461.03,238.67 461.4,242 C461.77,245.33 461.95,248.67 462.2,252 C462.45,255.33 462.67,258.17 462.9,262 C463.13,265.83 463.32,270.67 463.6,275 C463.88,279.33 464.27,284 464.6,288 C464.93,292 465.28,295.75 465.6,299 C465.92,302.25 466.22,305.08 466.5,307.5 C466.78,309.92 466.97,311.87 467.3,313.5 C467.63,315.13 468.08,316.55 468.5,317.3 C468.92,318.05 469.42,318.3 469.8,318 C470.18,317.7 470.47,316.42 470.8,315.5 C471.13,314.58 471.48,313.17 471.8,312.5 C472.12,311.83 472.42,311.33 472.7,311.5 C472.98,311.67 473.22,312.5 473.5,313.5 C473.78,314.5 474.15,316.08 474.4,317.5 C474.65,318.92 474.77,320.42 475,322 C475.23,323.58 475.43,325.17 475.8,327 C476.17,328.83 476.62,330.83 477.2,333 C477.78,335.17 478.38,338.07 479.3,340 C480.22,341.93 481.42,343.6 482.7,344.6 C483.98,345.6 485.62,345.83 487,346 C488.38,346.17 489.58,345.5 491,345.6 C492.42,345.7 494,346.27 495.5,346.6 C497,346.93 498.75,347.37 500,347.6 C501.25,347.83 502,347.63 503,348 C504,348.37 505.17,349.25 506,349.8 C506.83,350.35 507.17,350.83 508,351.3 C508.83,351.77 510,352.3 511,352.6 C512,352.9 513.5,353.02 514,353.1 L514,353.7 C513,353.67 509.33,353.67 508,353.5 C506.67,353.33 506.83,353.1 506,352.7 C505.17,352.3 504,351.4 503,351.1 C502,350.8 501.25,351.03 500,350.9 C498.75,350.77 497,350.48 495.5,350.3 C494,350.12 492.42,349.88 491,349.8 C489.58,349.72 488.38,349.95 487,349.8 C485.62,349.65 483.95,349.62 482.7,348.9 C481.45,348.18 480.37,346.82 479.5,345.5 C478.63,344.18 478.08,342.33 477.5,341 C476.92,339.67 476.45,338.67 476,337.5 C475.55,336.33 475.27,335.13 474.8,334 C474.33,332.87 473.9,331.78 473.2,330.7 C472.5,329.62 471.33,328.37 470.6,327.5 C469.87,326.63 469.37,326.38 468.8,325.5 C468.23,324.62 467.62,323.62 467.2,322.2 C466.78,320.78 466.6,318.87 466.3,317 C466,315.13 465.7,313.33 465.4,311 C465.1,308.67 464.82,305.67 464.5,303 C464.18,300.33 463.92,298.33 463.5,295 C463.08,291.67 462.5,287.5 462,283 C461.5,278.5 461.03,273.17 460.5,268 C459.97,262.83 459.42,256.83 458.8,252 C458.18,247.17 457.52,243.33 456.8,239 C456.08,234.67 455.13,230.17 454.5,226 C453.87,221.83 453.37,217.33 453,214 C452.63,210.67 452.48,207.5 452.3,206 C452.12,204.5 452.05,204 451.9,205 C451.75,206 451.55,209.17 451.4,212 C451.25,214.83 451.13,218.17 451,222 C450.87,225.83 450.73,230.33 450.6,235 C450.47,239.67 450.32,244.17 450.2,250 C450.08,255.83 450.03,263.33 449.9,270 C449.77,276.67 449.63,283.17 449.4,290 C449.17,296.83 448.8,304.17 448.5,311 C448.2,317.83 447.88,326.17 447.6,331 C447.32,335.83 447.03,337.17 446.8,340 C446.57,342.83 446.5,345.73 446.2,348 C445.9,350.27 445.2,352.67 445,353.6 Z" fill="#e8302c" stroke="#e8302c" stroke-width="0.3"/>
<path d="M513,353.2 L517,352.5 L521,351.4 L525,350.5 L528.5,350.1 L531.5,350.9 L534.5,352.6 L536,353.2 L531,352.3 L528,352 L524,352.4 L520,353 L516,353.5 Z" fill="#d84040" fill-opacity="0.85"/>
<path d="M430.8,353.2 C432.83,353.2 440.72,353.57 443,353.2 C445.28,352.83 444.12,351.82 444.5,351 C444.88,350.18 444.92,351.52 445.3,348.3 C445.68,345.08 446.38,337.92 446.8,331.7 C447.22,325.48 447.47,317.9 447.8,311 C448.13,304.1 448.53,297.13 448.8,290.3 C449.07,283.47 449.2,276.72 449.4,270 C449.6,263.28 449.8,256.67 450,250 C450.2,243.33 450.4,235.83 450.6,230 C450.8,224.17 450.98,219.62 451.2,215 C451.42,210.38 451.63,203.8 451.9,202.3 C452.17,200.8 452.48,204.38 452.8,206 C453.12,207.62 453.43,209.67 453.8,212 C454.17,214.33 454.42,216.67 455,220 C455.58,223.33 456.55,227.83 457.3,232 C458.05,236.17 458.85,240.67 459.5,245 C460.15,249.33 460.7,253.83 461.2,258 C461.7,262.17 462.1,266 462.5,270 C462.9,274 463.27,278.5 463.6,282 C463.93,285.5 464.22,288 464.5,291 C464.78,294 465.07,297.08 465.3,300 C465.53,302.92 465.63,306.03 465.9,308.5 C466.17,310.97 466.57,312.95 466.9,314.8 C467.23,316.65 467.47,318.4 467.9,319.6 C468.33,320.8 468.97,321.65 469.5,322 C470.03,322.35 470.57,321.87 471.1,321.7 C471.63,321.53 472.25,320.73 472.7,321 C473.15,321.27 473.45,322.03 473.8,323.3 C474.15,324.57 474.45,326.83 474.8,328.6 C475.15,330.37 475.45,332.13 475.9,333.9 C476.35,335.67 476.93,337.82 477.5,339.2 C478.07,340.58 478.43,341.03 479.3,342.2 C480.17,343.37 481.42,345.32 482.7,346.2 C483.98,347.08 485.58,347.33 487,347.5 C488.42,347.67 489.78,347.1 491.2,347.2 C492.62,347.3 494.08,347.82 495.5,348.1 C496.92,348.38 498.43,348.7 499.7,348.9 C500.97,349.1 502.1,348.97 503.1,349.3 C504.1,349.63 504.92,350.4 505.7,350.9 C506.48,351.4 506.97,351.97 507.8,352.3 C508.63,352.63 509.33,352.83 510.7,352.9 C512.07,352.97 514.12,352.78 516,352.7 C517.88,352.62 519.87,352.63 522,352.4 C524.13,352.17 526.87,351.3 528.8,351.3 C530.73,351.3 531.73,352.12 533.6,352.4 C535.47,352.68 528.93,352.88 540,353 C551.07,353.12 577.4,353.07 600,353.1 C622.6,353.13 663,353.18 675.6,353.2" fill="none" stroke="#111" stroke-width="1.25" stroke-linejoin="round"/>
<text x="452.4" y="200" font-size="5.3" fill="#5b5bff" stroke="#5b5bff" stroke-width="0.3">86</text>
<text x="473.4" y="320" font-size="5.3" fill="#5b5bff" stroke="#5b5bff" stroke-width="0.3">172</text>
<text x="490.7" y="347" font-size="5.3" fill="#5b5bff" stroke="#5b5bff" stroke-width="0.3">247</text>
<text x="501" y="348.2" font-size="5.3" fill="#5b5bff" stroke="#5b5bff" stroke-width="0.3">297</text>
<text x="526.9" y="350.6" font-size="5.3" fill="#5b5bff" stroke="#5b5bff" stroke-width="0.3">394</text>
<text x="542.3" y="352.2" font-size="5.3" fill="#5b5bff" stroke="#5b5bff" stroke-width="0.3">458</text>
<text x="600.7" y="352.2" font-size="5.3" fill="#5b5bff" stroke="#5b5bff" stroke-width="0.3">697</text>
<text x="503.4" y="219.3" font-size="7.5" textLength="51.4" lengthAdjust="spacingAndGlyphs" fill="#111" stroke="#111" stroke-width="0.22">Mean: 126.1 nm</text>
<text x="503.4" y="228.5" font-size="7.5" textLength="47.7" lengthAdjust="spacingAndGlyphs" fill="#111" stroke="#111" stroke-width="0.22">Mode: 86.7 nm</text>
<text x="503.4" y="237.8" font-size="7.5" textLength="46" lengthAdjust="spacingAndGlyphs" fill="#111" stroke="#111" stroke-width="0.22">D90: 182.1 nm</text>
<text x="503.4" y="247.3" font-size="7.5" textLength="46" lengthAdjust="spacingAndGlyphs" fill="#111" stroke="#111" stroke-width="0.22">D50: 110.9 nm</text>
<text x="503.4" y="256.5" font-size="7.5" textLength="42.2" lengthAdjust="spacingAndGlyphs" fill="#111" stroke="#111" stroke-width="0.22">D10: 81.0 nm</text>
</svg>
</body></html>
